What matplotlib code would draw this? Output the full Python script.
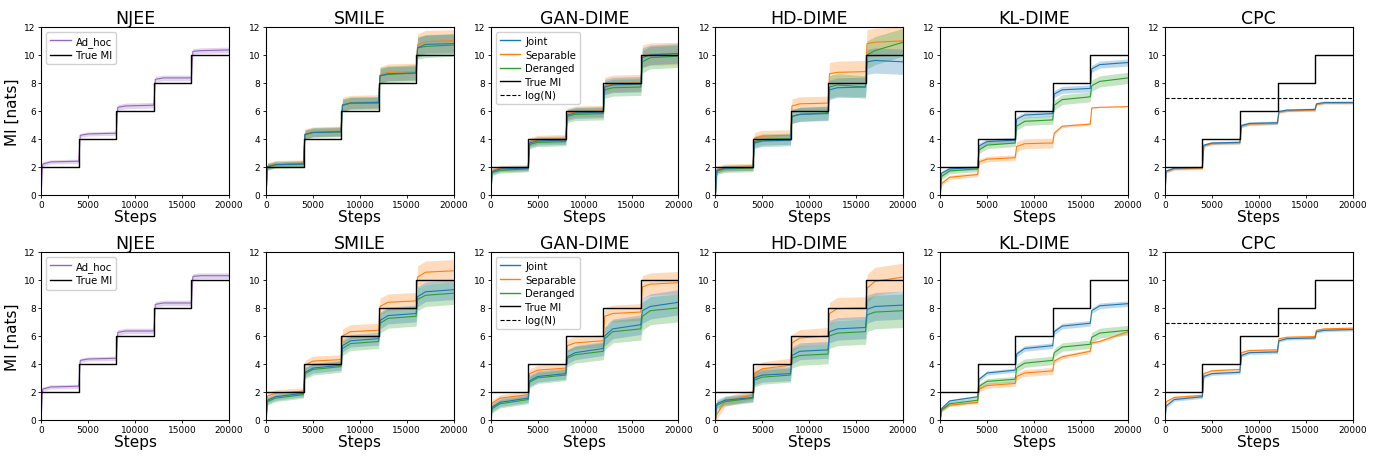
import numpy as np
import matplotlib
matplotlib.use("Agg")
import matplotlib.pyplot as plt
from matplotlib.lines import Line2D

# training steps at which the curves are sampled
steps = [0, 150, 1000, 3990, 4150, 5000, 7990, 8150, 9000, 11990,
         12150, 13000, 15990, 16150, 17000, 20000]
stage_edges = [0, 4000, 8000, 12000, 16000, 20000]
true_mi = [2, 4, 6, 8, 10, 10]
log_n = 6.93

titles = ["NJEE", "SMILE", "GAN-DIME", "HD-DIME", "KL-DIME", "CPC"]

# ---- top row ----
njee_top = [0.3, 2.2, 2.35, 2.4, 4.25, 4.35, 4.4, 6.25, 6.35, 6.4, 8.25, 8.35, 8.35, 10.25, 10.3, 10.35]
njee_top_band = [0.15, 0.15, 0.2, 0.2, 0.2]

smile_top_joint = [0, 2.0, 2.15, 2.2, 4.3, 4.45, 4.5, 6.4, 6.55, 6.6, 8.5, 8.65, 8.7, 10.5, 10.75, 10.8]
smile_top_sep = [0, 2.05, 2.2, 2.25, 4.35, 4.5, 4.55, 6.45, 6.6, 6.65, 8.55, 8.75, 8.8, 10.7, 10.95, 11.0]
smile_top_der = [0, 2.0, 2.15, 2.2, 4.3, 4.45, 4.5, 6.4, 6.55, 6.55, 8.5, 8.6, 8.7, 10.5, 10.6, 10.7]
smile_top_bands = [[0.2, 0.3, 0.4, 0.5, 0.7], [0.25, 0.35, 0.5, 0.6, 0.8], [0.25, 0.35, 0.45, 0.6, 0.8]]

gan_top_joint = [0, 1.65, 1.85, 1.9, 3.7, 3.85, 3.9, 5.7, 5.85, 5.9, 7.7, 7.85, 7.9, 9.8, 10.0, 10.1]
gan_top_sep = [0, 1.75, 1.9, 1.95, 3.8, 3.95, 4.0, 5.8, 5.95, 6.0, 7.8, 7.95, 8.0, 9.9, 10.05, 10.1]
gan_top_der = [0, 1.6, 1.75, 1.85, 3.6, 3.75, 3.8, 5.6, 5.75, 5.8, 7.5, 7.65, 7.7, 9.5, 9.8, 9.9]
gan_top_bands = [[0.2, 0.3, 0.4, 0.55, 0.7], [0.2, 0.3, 0.4, 0.6, 0.8], [0.2, 0.3, 0.45, 0.6, 0.8]]

hd_top_joint = [0, 1.75, 1.9, 1.95, 3.7, 3.85, 3.9, 5.6, 5.75, 5.8, 7.5, 7.65, 7.7, 9.5, 9.6, 9.5]
hd_top_sep = [0, 1.8, 1.95, 2.0, 4.05, 4.2, 4.25, 6.35, 6.5, 6.55, 8.65, 8.75, 8.8, 10.8, 10.9, 11.0]
hd_top_der = [0, 1.7, 1.85, 1.9, 3.8, 3.95, 4.0, 5.6, 5.75, 5.85, 7.7, 7.85, 7.7, 10.0, 10.3, 10.9]
hd_top_bands = [[0.2, 0.4, 0.5, 0.7, 0.9], [0.25, 0.4, 0.5, 0.8, 1.0], [0.25, 0.4, 0.5, 0.8, 1.0]]

kl_top_joint = [0, 1.55, 1.85, 1.95, 3.5, 3.8, 3.9, 5.4, 5.7, 5.8, 7.2, 7.5, 7.6, 9.0, 9.3, 9.45]
kl_top_sep = [0, 0.8, 1.25, 1.45, 2.35, 2.55, 2.65, 3.45, 3.65, 3.7, 4.4, 4.9, 5.05, 6.2, 6.25, 6.3]
kl_top_der = [0, 1.3, 1.7, 1.85, 3.2, 3.55, 3.7, 4.9, 5.25, 5.35, 6.4, 6.8, 7.0, 7.8, 8.1, 8.35]
kl_top_bands = [[0.15, 0.2, 0.2, 0.25, 0.25], [0.15, 0.2, 0.35, 0.1, 0.02], [0.2, 0.25, 0.3, 0.35, 0.4]]

cpc_top_joint = [0, 1.7, 1.9, 1.95, 3.55, 3.7, 3.75, 4.95, 5.1, 5.15, 5.95, 6.05, 6.1, 6.5, 6.6, 6.6]
cpc_top_sep = [0, 1.65, 1.85, 1.9, 3.5, 3.65, 3.7, 4.9, 5.05, 5.1, 5.9, 6.0, 6.05, 6.45, 6.55, 6.55]
cpc_top_bands = [[0.1, 0.1, 0.12, 0.1, 0.08], [0.1, 0.1, 0.1, 0.08, 0.08]]

# ---- bottom row ----
njee_bot = [0.4, 2.2, 2.35, 2.4, 4.25, 4.35, 4.4, 6.25, 6.35, 6.35, 8.25, 8.35, 8.35, 10.25, 10.3, 10.3]
njee_bot_band = [0.15, 0.15, 0.2, 0.2, 0.2]

smile_bot_joint = [0, 1.4, 1.65, 1.9, 3.4, 3.7, 3.9, 5.3, 5.65, 5.8, 7.1, 7.45, 7.6, 8.8, 9.15, 9.3]
smile_bot_sep = [0, 1.7, 1.9, 2.05, 3.9, 4.2, 4.3, 6.0, 6.3, 6.4, 8.1, 8.4, 8.5, 10.2, 10.55, 10.65]
smile_bot_der = [0, 1.3, 1.55, 1.8, 3.3, 3.6, 3.8, 5.1, 5.45, 5.6, 6.9, 7.25, 7.4, 8.6, 8.9, 9.05]
smile_bot_bands = [[0.25, 0.35, 0.45, 0.6, 0.7], [0.25, 0.35, 0.5, 0.6, 0.8], [0.25, 0.4, 0.5, 0.7, 0.8]]

gan_bot_joint = [0, 0.9, 1.25, 1.55, 2.8, 3.1, 3.3, 4.5, 4.8, 5.1, 6.0, 6.5, 6.8, 7.8, 8.1, 8.4]
gan_bot_sep = [0, 1.2, 1.55, 1.8, 3.3, 3.55, 3.7, 5.3, 5.5, 5.65, 7.4, 7.6, 7.7, 9.5, 9.7, 9.8]
gan_bot_der = [0, 0.8, 1.15, 1.45, 2.7, 3.0, 3.2, 4.4, 4.65, 4.9, 5.8, 6.3, 6.5, 7.4, 7.8, 8.0]
gan_bot_bands = [[0.3, 0.4, 0.5, 0.7, 0.9], [0.25, 0.35, 0.45, 0.6, 0.8], [0.3, 0.4, 0.6, 0.8, 1.0]]

hd_bot_joint = [0, 1.15, 1.4, 1.6, 3.0, 3.2, 3.3, 4.6, 4.9, 5.0, 6.3, 6.5, 6.6, 7.9, 8.1, 8.2]
hd_bot_sep = [0, 0.4, 1.3, 1.8, 3.3, 3.65, 3.9, 5.5, 5.85, 6.0, 7.6, 7.95, 8.0, 9.4, 9.9, 10.2]
hd_bot_der = [0, 1.05, 1.3, 1.55, 2.85, 3.05, 3.2, 4.4, 4.6, 4.7, 6.0, 6.2, 6.3, 7.5, 7.7, 7.8]
hd_bot_bands = [[0.3, 0.5, 0.6, 0.8, 1.0], [0.35, 0.5, 0.6, 0.8, 1.0], [0.3, 0.5, 0.7, 0.9, 1.2]]

kl_bot_joint = [0, 0.8, 1.35, 1.65, 2.9, 3.35, 3.55, 4.7, 5.1, 5.3, 6.3, 6.7, 6.9, 7.8, 8.15, 8.3]
kl_bot_sep = [0, 0.7, 1.05, 1.25, 2.2, 2.45, 2.6, 3.1, 3.35, 3.5, 4.2, 4.5, 4.9, 5.5, 5.6, 6.3]
kl_bot_der = [0, 0.7, 1.15, 1.4, 2.4, 2.75, 2.9, 3.7, 4.05, 4.25, 4.8, 5.2, 5.4, 5.9, 6.2, 6.4]
kl_bot_bands = [[0.1, 0.15, 0.2, 0.2, 0.2], [0.1, 0.2, 0.25, 0.15, 0.1], [0.15, 0.2, 0.3, 0.3, 0.35]]

cpc_bot_joint = [0, 1.0, 1.45, 1.65, 3.1, 3.3, 3.4, 4.6, 4.8, 4.85, 5.65, 5.8, 5.85, 6.3, 6.4, 6.45]
cpc_bot_sep = [0, 1.3, 1.6, 1.75, 3.3, 3.5, 3.6, 4.8, 4.95, 5.0, 5.8, 5.9, 5.95, 6.4, 6.5, 6.55]
cpc_bot_bands = [[0.12, 0.12, 0.12, 0.1, 0.1], [0.1, 0.1, 0.1, 0.08, 0.08]]

C_JOINT, C_SEP, C_DER, C_ADHOC = "tab:blue", "tab:orange", "tab:green", "#9467bd"

# which stage each sample point belongs to (for the noise band)
stage_idx = np.minimum(np.array(steps) // 4000, 4)
x = np.array(steps)

LEG_KW = dict(loc="upper left", fontsize=7.3, handlelength=2.0, labelspacing=0.35,
              borderpad=0.4, handletextpad=0.5, framealpha=0.9)


def draw_series(ax, y, band, color, label):
    y = np.array(y)
    b = np.array(band)[stage_idx]
    ax.fill_between(x, y - b, y + b, color=color, alpha=0.28, lw=0)
    ax.plot(x, y, color=color, lw=0.8, label=label)


def finish(ax, title, ylabel=False, logn=False):
    ax.plot(stage_edges, true_mi, drawstyle="steps-post", color="black", lw=1.0, label="True MI")
    if logn:
        ax.axhline(log_n, color="black", ls="--", lw=0.8, label="log(N)")
    ax.set_xlim(0, 20000)
    ax.set_ylim(0, 12)
    ax.set_xticks([0, 5000, 10000, 15000, 20000])
    ax.set_yticks([0, 2, 4, 6, 8, 10, 12])
    ax.tick_params(labelsize=6.5, length=2.5, width=0.6, pad=1.5)
    ax.set_title(title, fontsize=12.5, pad=3)
    ax.set_xlabel("Steps", fontsize=11, labelpad=0)
    if ylabel:
        ax.set_ylabel("MI [nats]", fontsize=11, labelpad=3)


fig, axes = plt.subplots(2, 6, figsize=(13.76, 4.64), dpi=100)
fig.subplots_adjust(left=0.030, right=0.983, top=0.940, bottom=0.093, wspace=0.197, hspace=0.34)

rows = [
    dict(njee=(njee_top, njee_top_band),
         multi=[(smile_top_joint, smile_top_sep, smile_top_der, smile_top_bands),
                (gan_top_joint, gan_top_sep, gan_top_der, gan_top_bands),
                (hd_top_joint, hd_top_sep, hd_top_der, hd_top_bands),
                (kl_top_joint, kl_top_sep, kl_top_der, kl_top_bands)],
         cpc=(cpc_top_joint, cpc_top_sep, cpc_top_bands)),
    dict(njee=(njee_bot, njee_bot_band),
         multi=[(smile_bot_joint, smile_bot_sep, smile_bot_der, smile_bot_bands),
                (gan_bot_joint, gan_bot_sep, gan_bot_der, gan_bot_bands),
                (hd_bot_joint, hd_bot_sep, hd_bot_der, hd_bot_bands),
                (kl_bot_joint, kl_bot_sep, kl_bot_der, kl_bot_bands)],
         cpc=(cpc_bot_joint, cpc_bot_sep, cpc_bot_bands)),
]

for r, row in enumerate(rows):
    ax = axes[r, 0]
    draw_series(ax, row["njee"][0], row["njee"][1], C_ADHOC, "Ad_hoc")
    finish(ax, titles[0], ylabel=True)
    handles = [Line2D([], [], color=C_ADHOC, lw=1), Line2D([], [], color="black", lw=1)]
    ax.legend(handles, ["Ad_hoc", "True MI"], **LEG_KW)

    for j, (joint, sep, der, bands) in enumerate(row["multi"]):
        ax = axes[r, j + 1]
        draw_series(ax, sep, bands[1], C_SEP, "Separable")
        draw_series(ax, der, bands[2], C_DER, "Deranged")
        draw_series(ax, joint, bands[0], C_JOINT, "Joint")
        finish(ax, titles[j + 1])
        if j == 1:
            handles = [Line2D([], [], color=C_JOINT, lw=1),
                       Line2D([], [], color=C_SEP, lw=1),
                       Line2D([], [], color=C_DER, lw=1),
                       Line2D([], [], color="black", lw=1),
                       Line2D([], [], color="black", lw=0.8, ls="--")]
            ax.legend(handles, ["Joint", "Separable", "Deranged", "True MI", "log(N)"], **LEG_KW)

    ax = axes[r, 5]
    joint, sep, bands = row["cpc"]
    draw_series(ax, sep, bands[1], C_SEP, "Separable")
    draw_series(ax, joint, bands[0], C_JOINT, "Joint")
    finish(ax, titles[5], logn=True)

fig.savefig("out.png", dpi=100)
